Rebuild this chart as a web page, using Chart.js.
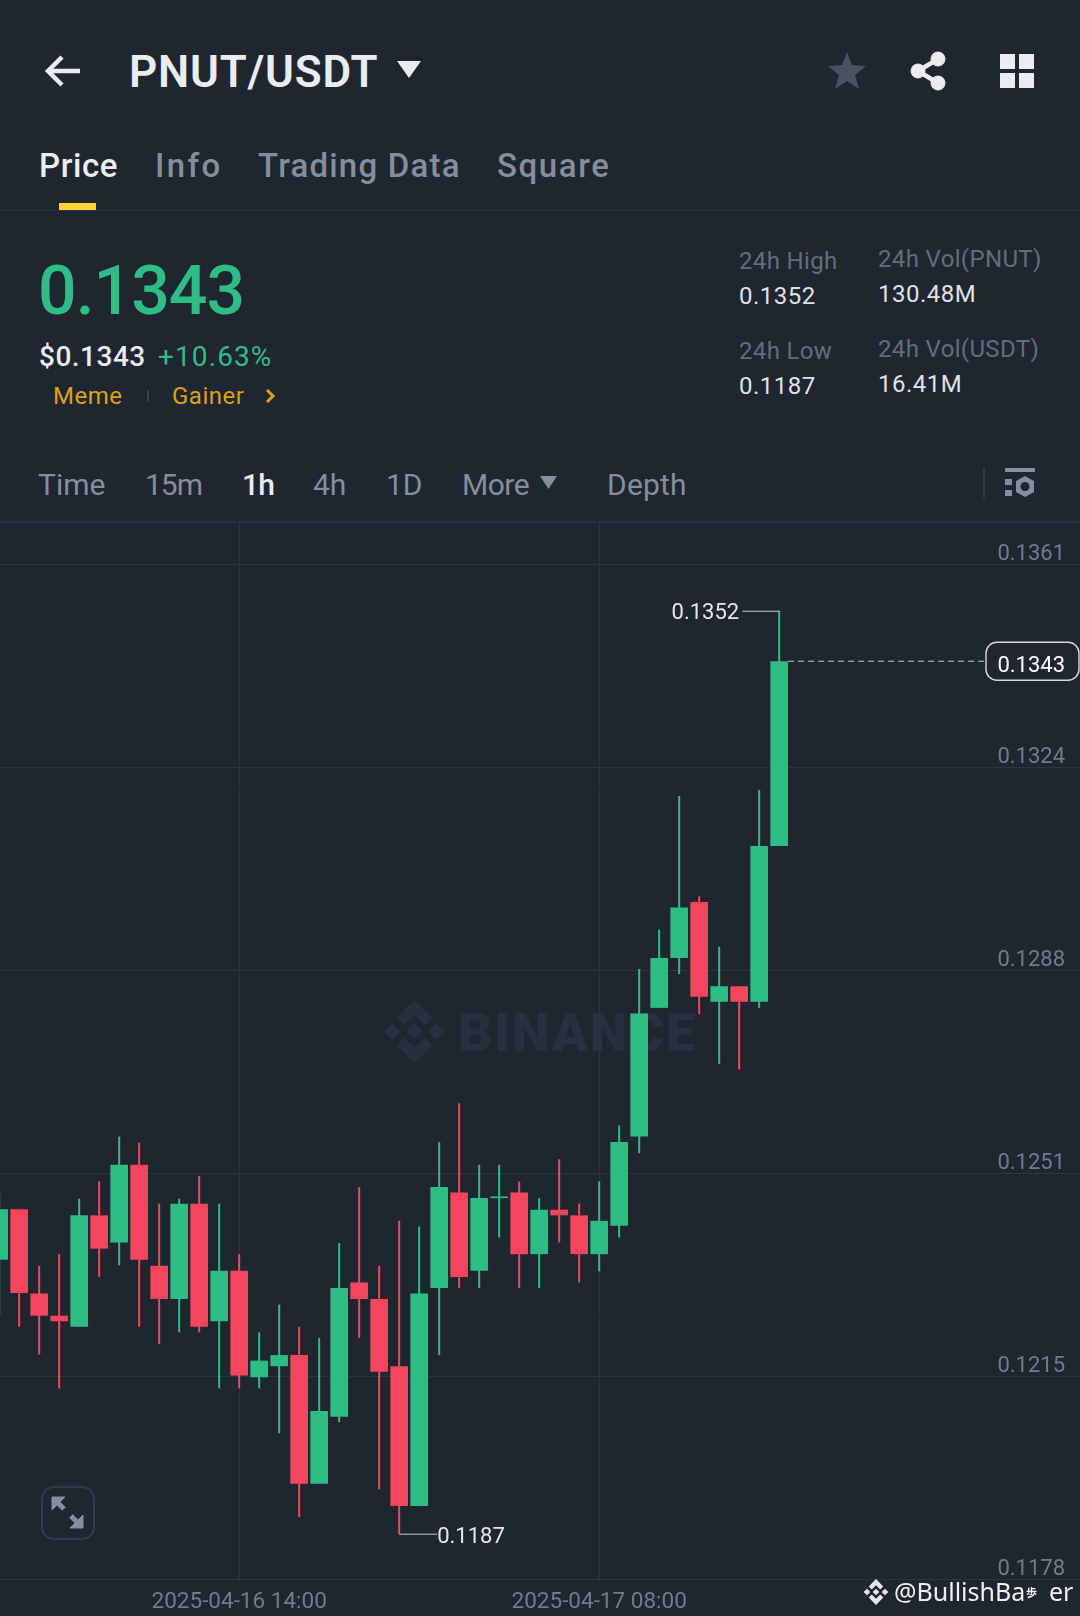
<!DOCTYPE html>
<html>
<head>
<meta charset="utf-8">
<title>PNUT/USDT</title>
<script src="https://cdn.jsdelivr.net/npm/chart.js@4"></script>
<style>
html, body { margin: 0; padding: 0; background: #1f2630; }
#page { position: relative; width: 1080px; height: 1616px; overflow: hidden; background: #1f2630; font-family: Roboto, sans-serif; }
.t { position: absolute; white-space: nowrap; line-height: 1; }
.s { position: absolute; }
.tab { font-size: 33px; font-weight: 500; color: #848e9c; top: 149px; }
.iv { font-size: 30px; color: #848e9c; top: 470px; }
.lab { font-size: 24px; color: #656c79; letter-spacing: .35px; }
.val { font-size: 24px; color: #dfe2e6; letter-spacing: .5px; }
.gold { font-size: 24px; color: #d9a40f; top: 384px; letter-spacing: .5px; }
.rule { position: absolute; left: 0; width: 1080px; background: #2b313c; }
#wrap { position: absolute; left: 0; top: 522px; width: 1080px; height: 1094px; }
</style>
</head>
<body>
<div id="page">
  <svg width="0" height="0" style="position:absolute">
    <symbol id="bnb" viewBox="0 0 100 100">
      <polygon points="50,38 62,50 50,62 38,50"/>
      <polygon points="18,38 30,50 18,62 6,50"/>
      <polygon points="82,38 94,50 82,62 70,50"/>
      <polygon points="50,4 76,30 65,41 50,26 35,41 24,30"/>
      <polygon points="50,96 76,70 65,59 50,74 35,59 24,70"/>
    </symbol>
  </svg>

  <!-- watermark sits under the canvas -->
  <svg class="s" style="left:380px;top:997px;fill:#2a303b" width="69" height="69"><use href="#bnb"/></svg>
  <div class="t" style="left:458px;top:1007px;font-size:53px;font-weight:900;color:#2a303b;letter-spacing:2px">BINANCE</div>

  <div id="wrap"><canvas id="kline"></canvas></div>

  <!-- top bar -->
  <svg class="s" style="left:44px;top:52px" width="38" height="38" fill="none" stroke="#eaecef" stroke-width="4.5"><path d="M36 19H4M18 5L4 19L18 33"/></svg>
  <div class="t" style="left:129px;top:50px;font-size:44px;font-weight:600;color:#eaecef;letter-spacing:.8px">PNUT/USDT</div>
  <svg class="s" style="left:396px;top:60px" width="26" height="19" fill="#eaecef"><polygon points="1,1 25,1 13,18"/></svg>
  <svg class="s" style="left:827px;top:51px" width="40" height="40" fill="#4a5261"><polygon points="20,1 25,14 39,15 28,24 32,38 20,30 8,38 12,24 1,15 15,14"/></svg>
  <svg class="s" style="left:909px;top:51px" width="40" height="40" fill="#eaecef" stroke="#eaecef"><circle cx="9" cy="20" r="7"/><circle cx="29" cy="8" r="7"/><circle cx="29" cy="32" r="7"/><path d="M9 20L29 8M9 20L29 32" stroke-width="4.5"/></svg>
  <svg class="s" style="left:1000px;top:54px" width="34" height="34" fill="#eaecef"><rect x="0" y="0" width="15" height="15"/><rect x="19" y="0" width="15" height="15"/><rect x="0" y="19" width="15" height="15"/><rect x="19" y="19" width="15" height="15"/></svg>

  <!-- tabs -->
  <div class="t tab" style="left:39px;color:#eaecef;letter-spacing:.6px">Price</div>
  <div class="t tab" style="left:155px;letter-spacing:2.4px">Info</div>
  <div class="t tab" style="left:258px;letter-spacing:1.2px">Trading Data</div>
  <div class="t tab" style="left:497px;letter-spacing:1.6px">Square</div>
  <div class="s" style="left:59px;top:203px;width:37px;height:7px;background:#fcd535"></div>
  <div class="rule" style="top:210px;height:1px"></div>

  <!-- price block -->
  <div class="t" style="left:38px;top:257px;font-size:68px;font-weight:500;color:#2ebd85;letter-spacing:-1px">0.1343</div>
  <div class="t" style="left:39px;top:343px;font-size:28px;font-weight:500;color:#eaecef;letter-spacing:.5px">$0.1343</div>
  <div class="t" style="left:158px;top:343px;font-size:28px;color:#2ebd85;letter-spacing:1.1px">+10.63%</div>
  <div class="t gold" style="left:53px">Meme</div>
  <div class="s" style="left:147px;top:390px;width:2px;height:11px;background:#3a404b"></div>
  <div class="t gold" style="left:172px">Gainer</div>
  <svg class="s" style="left:264px;top:388px" width="12" height="16" fill="none" stroke="#d9a40f" stroke-width="3"><path d="M3 2L9 8L3 14"/></svg>

  <div class="t lab" style="left:739px;top:249px">24h High</div>
  <div class="t val" style="left:739px;top:284px">0.1352</div>
  <div class="t lab" style="left:739px;top:339px">24h Low</div>
  <div class="t val" style="left:739px;top:374px">0.1187</div>
  <div class="t lab" style="left:878px;top:247px">24h Vol(PNUT)</div>
  <div class="t val" style="left:878px;top:282px">130.48M</div>
  <div class="t lab" style="left:878px;top:337px">24h Vol(USDT)</div>
  <div class="t val" style="left:878px;top:372px">16.41M</div>

  <!-- interval row -->
  <div class="t iv" style="left:38px">Time</div>
  <div class="t iv" style="left:145px;letter-spacing:-1px">15m</div>
  <div class="t iv" style="left:242px;color:#eaecef;font-weight:500;letter-spacing:-.8px">1h</div>
  <div class="t iv" style="left:313px">4h</div>
  <div class="t iv" style="left:386px">1D</div>
  <div class="t iv" style="left:462px;letter-spacing:-.5px">More</div>
  <svg class="s" style="left:540px;top:476px" width="17" height="13" fill="#848e9c"><polygon points="0,0 17,0 8.5,13"/></svg>
  <div class="t iv" style="left:607px;letter-spacing:.2px">Depth</div>
  <div class="s" style="left:983px;top:468px;width:2px;height:30px;background:#333a45"></div>
  <svg class="s" style="left:1005px;top:468px" width="30" height="30" fill="#848e9c"><rect x="0" y="0" width="30" height="4"/><rect x="0" y="11" width="7" height="6"/><rect x="0" y="22" width="7" height="6"/><path d="M20 8l9 5v11l-9 5l-9-5V13zM20 14a4.500 4.500 0 1 0 .01 0z" fill-rule="evenodd"/></svg>
  <div class="rule" style="top:521px;height:2px"></div>

  <!-- expand button -->
  <div class="s" style="left:41px;top:1486px;width:50px;height:50px;border:2px solid #353b47;border-radius:13px"></div>
  <svg class="s" style="left:51px;top:1496px" width="33" height="33" fill="#848e9c" stroke="#848e9c"><polygon points="1,1 14,1 1,14"/><polygon points="32,32 19,32 32,19"/><path d="M6 6L13 13M27 27L20 20" stroke-width="5"/></svg>

  <!-- reposter mark -->
  <svg class="s" style="left:862px;top:1578px;fill:#e6e6e6" width="28" height="28"><use href="#bnb"/></svg>
  <div class="t" style="left:894px;top:1579px;font-size:25px;color:#f0f0f0;font-family:'Noto Sans',sans-serif">@BullishBa</div>
  <div class="t" style="left:1026px;top:1587px;font-size:11px;color:#f0f0f0;font-weight:700;font-family:'Noto Sans CJK SC',sans-serif">歩</div>
  <div class="t" style="left:1049px;top:1579px;font-size:25px;color:#f0f0f0;font-family:'Noto Sans',sans-serif">er</div>
</div>

<script>
// candles, hourly, oldest first
const times = [
  '2025-04-16 02:00','2025-04-16 03:00','2025-04-16 04:00','2025-04-16 05:00','2025-04-16 06:00',
  '2025-04-16 07:00','2025-04-16 08:00','2025-04-16 09:00','2025-04-16 10:00','2025-04-16 11:00',
  '2025-04-16 12:00','2025-04-16 13:00','2025-04-16 14:00','2025-04-16 15:00','2025-04-16 16:00',
  '2025-04-16 17:00','2025-04-16 18:00','2025-04-16 19:00','2025-04-16 20:00','2025-04-16 21:00',
  '2025-04-16 22:00','2025-04-16 23:00','2025-04-17 00:00','2025-04-17 01:00','2025-04-17 02:00',
  '2025-04-17 03:00','2025-04-17 04:00','2025-04-17 05:00','2025-04-17 06:00','2025-04-17 07:00',
  '2025-04-17 08:00','2025-04-17 09:00','2025-04-17 10:00','2025-04-17 11:00','2025-04-17 12:00',
  '2025-04-17 13:00','2025-04-17 14:00','2025-04-17 15:00','2025-04-17 16:00','2025-04-17 17:00'
];
const open = [
  .12357,.12448,.12296,.12256,.12236,.12437,.12388,.12528,.12346,.12286,
  .12458,.12246,.12337,.12145,.12165,.12185,.11953,.12074,.12316,.12286,
  .12165,.11913,.12306,.12478,.12337,.12468,.12478,.12367,.12447,.12437,
  .12367,.12418,.12579,.12811,.12901,.13002,.12822,.12850,.12822,.13103
];
const close = [
  .12448,.12297,.12256,.12246,.12437,.12377,.12528,.12357,.12286,.12458,
  .12236,.12337,.12148,.12175,.12185,.11953,.12084,.12306,.12286,.12155,
  .11913,.12296,.12488,.12326,.12468,.12471,.12367,.12447,.12437,.12367,
  .12427,.12569,.12801,.12901,.12992,.12831,.12850,.12822,.13103,.13436
];
const high = [
  .12477,.12448,.12346,.12367,.12467,.12498,.12579,.12568,.12458,.12467,
  .12508,.12458,.12367,.12226,.12276,.12236,.12216,.12387,.12488,.12346,
  .12427,.12417,.12569,.12639,.12528,.12528,.12498,.12468,.12538,.12458,
  .12498,.12599,.12881,.12952,.13193,.13012,.12921,.12850,.13204,.13527
];
const low = [
  .12257,.12236,.12186,.12125,.12236,.12326,.12347,.12236,.12205,.12226,
  .12226,.12125,.12125,.12125,.12044,.11893,.11953,.12064,.12216,.11943,
  .11863,.11913,.12185,.12306,.12306,.12397,.12306,.12306,.12388,.12316,
  .12336,.12397,.12549,.12811,.12872,.12800,.12710,.12700,.12811,.13103
];
const priceTicks = [0.1361, 0.13244, 0.12878, 0.12512, 0.12146, 0.1178];
const priceLabels = ['0.1361', '0.1324', '0.1288', '0.1251', '0.1215', '0.1178'];
const timeTicks = [12, 30];   // index into times

const UP = '#2ebd85';
const DOWN = '#f6465d';
const GRID = '#2e343f';
const TICK_TEXT = '#747b87';
const LABEL_TEXT = '#e4e6ea';
const FONT = '22px Roboto';

const isUp = times.map((t, i) => close[i] >= open[i]);
const colors = isUp.map(u => u ? UP : DOWN);

// hi/lo flags and last price tag, placed off the scales
const marks = {
  id: 'marks',
  afterDatasetsDraw(chart) {
    const { ctx, scales: { x, y } } = chart;
    const last = times.length - 1;
    const hiY = y.getPixelForValue(high[last]);
    const hiX = x.getPixelForValue(last);
    const loI = low.indexOf(Math.min(...low));
    const loY = y.getPixelForValue(low[loI]);
    const loX = x.getPixelForValue(loI);
    const nowY = y.getPixelForValue(close[last]);

    ctx.save();
    ctx.font = FONT;
    ctx.textBaseline = 'middle';
    ctx.fillStyle = LABEL_TEXT;
    ctx.strokeStyle = '#c9ccd1';
    ctx.lineWidth = 1;

    ctx.beginPath();
    ctx.moveTo(hiX - 37, hiY + .5);
    ctx.lineTo(hiX, hiY + .5);
    ctx.moveTo(loX, loY + .5);
    ctx.lineTo(loX + 38, loY + .5);
    ctx.stroke();

    ctx.textAlign = 'right';
    ctx.fillText('0.1352', hiX - 40, hiY + 3);
    ctx.textAlign = 'left';
    ctx.fillText('0.1187', loX + 38, loY + 4);

    ctx.setLineDash([6, 4]);
    ctx.beginPath();
    ctx.moveTo(hiX + 9, nowY);
    ctx.lineTo(985, nowY);
    ctx.stroke();
    ctx.setLineDash([]);

    ctx.lineWidth = 1.4;
    ctx.strokeStyle = '#d5d8dc';
    ctx.beginPath();
    ctx.roundRect(986, nowY - 19, 93, 38, 11);
    ctx.stroke();
    ctx.fillStyle = '#ffffff';
    ctx.textAlign = 'right';
    ctx.fillText('0.1343', 1065, nowY + 5);
    ctx.restore();
  }
};

new Chart(document.getElementById('kline'), {
  type: 'bar',
  plugins: [marks],
  data: {
    datasets: [
      {
        label: 'body',
        data: times.map((t, i) => ({ x: i, y: [open[i], close[i]] })),
        backgroundColor: colors,
        barThickness: 17.6,
        grouped: false,
        borderWidth: 0,
        inflateAmount: 0
      },
      {
        label: 'wick',
        data: times.map((t, i) => ({ x: i, y: [low[i], high[i]] })),
        backgroundColor: colors,
        barThickness: 2,
        grouped: false,
        borderWidth: 0,
        inflateAmount: 0
      }
    ]
  },
  options: {
    responsive: true,
    maintainAspectRatio: false,
    animation: false,
    devicePixelRatio: 1,
    layout: { padding: 0 },
    plugins: { legend: { display: false }, tooltip: { enabled: false } },
    scales: {
      x: {
        type: 'linear',
        offset: false,
        min: 0.0415,
        max: 54.0415,
        border: { display: false },
        grid: { color: GRID, lineWidth: 1, drawTicks: false, offset: false },
        afterBuildTicks: s => { s.ticks = timeTicks.map(v => ({ value: v })); },
        afterFit: s => { s.height = 36; },
        ticks: {
          autoSkip: false,
          maxRotation: 0,
          padding: 9,
          color: TICK_TEXT,
          font: { family: 'Roboto', size: 22.5 },
          callback: v => times[v]
        }
      },
      y: {
        type: 'linear',
        position: 'right',
        min: 0.117795,
        max: 0.13687,
        border: { display: false },
        grid: { color: GRID, lineWidth: 1, drawTicks: false },
        afterBuildTicks: s => { s.ticks = priceTicks.map(v => ({ value: v })); },
        afterFit: s => { s.width = 0; s.paddingTop = 0; s.paddingBottom = 0; },
        ticks: {
          mirror: true,
          autoSkip: false,
          padding: -15,
          labelOffset: -10.5,
          color: TICK_TEXT,
          font: { family: 'Roboto', size: 22 },
          callback: (v, i) => priceLabels[i]
        }
      }
    }
  }
});
</script>
</body>
</html>
